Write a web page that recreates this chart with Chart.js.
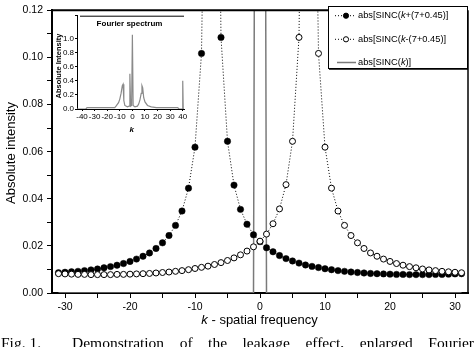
<!DOCTYPE html>
<html>
<head>
<meta charset="utf-8">
<script src="https://cdn.jsdelivr.net/npm/chart.js@4.4.1/dist/chart.umd.min.js"></script>
<style>
  html, body { margin: 0; padding: 0; background: #fff; overflow: hidden; }
  #wrap { position: relative; width: 474px; height: 347px; overflow: hidden; }
  #mainChart { position: absolute; left: 0; top: 0; }
  #insetChart { position: absolute; left: 40px; top: 8px; }
  .cap {
    position: absolute; top: 335px;
    font-family: 'Liberation Serif', 'DejaVu Serif', serif; font-size: 15.5px; line-height: 16px;
    white-space: nowrap; color: #000;
  }
  #capRest { left: 72px; width: 402px; text-align: justify; text-align-last: justify; }
</style>
</head>
<body>
<div id="wrap">
  <canvas id="mainChart" width="474" height="347"></canvas>
  <canvas id="insetChart" width="150" height="130"></canvas>
  <div class="cap" style="left:1px">Fig. 1.</div>
  <div class="cap" id="capRest">Demonstration of the leakage effect, enlarged Fourier</div>
</div>
<script>
// spatial frequency k
const kValues = [-31, -30, -29, -28, -27, -26, -25, -24, -23, -22, -21, -20, -19, -18, -17, -16,
    -15, -14, -13, -12, -11, -10, -9, -8, -7, -6, -5, -4, -3, -2, -1, 0,
    1, 2, 3, 4, 5, 6, 7, 8, 9, 10, 11, 12, 13, 14, 15, 16,
    17, 18, 19, 20, 21, 22, 23, 24, 25, 26, 27, 28, 29, 30, 31];

// abs[SINC(k+(7+0.45)] - filled dots (k=-8,-7 are above the top of the plot)
const sincPlus = [0.0086, 0.0088, 0.0090, 0.0092, 0.0095, 0.0098, 0.0102, 0.0107, 0.0112, 0.0118, 0.0125, 0.0134, 0.0144, 0.0156, 0.0170, 0.0189,
    0.0213, 0.0244, 0.0287, 0.0348, 0.0445, 0.0619, 0.1017, 0.286, 0.349, 0.1085, 0.0644, 0.0458, 0.0355, 0.0292, 0.0247, 0.0218,
    0.0192, 0.0175, 0.0159, 0.0146, 0.0136, 0.0127, 0.0119, 0.0113, 0.0108, 0.0103, 0.0099, 0.0095, 0.0092, 0.0089, 0.0087, 0.0085,
    0.0083, 0.0082, 0.0081, 0.0080, 0.0079, 0.0079, 0.0078, 0.0078, 0.0078, 0.0078, 0.0079, 0.0079, 0.0080, 0.0081, 0.0082];

// abs[SINC(k-(7+0.45)] - open circles
const sincMinus = [0.0082, 0.0081, 0.0080, 0.0079, 0.0079, 0.0078, 0.0078, 0.0078, 0.0078, 0.0079, 0.0079, 0.0080, 0.0081, 0.0082, 0.0083, 0.0085,
    0.0087, 0.0089, 0.0092, 0.0095, 0.0099, 0.0104, 0.0109, 0.0114, 0.0121, 0.0129, 0.0138, 0.0149, 0.0162, 0.0178, 0.0196, 0.0220,
    0.0250, 0.0294, 0.0357, 0.0460, 0.0644, 0.1085, 0.349, 0.286, 0.1017, 0.0619, 0.0445, 0.0348, 0.0287, 0.0244, 0.0213, 0.0189,
    0.0170, 0.0156, 0.0144, 0.0134, 0.0125, 0.0118, 0.0112, 0.0107, 0.0102, 0.0098, 0.0095, 0.0092, 0.0090, 0.0088, 0.0086];

// abs[SINC(k)] - gray line
const sincZero = [0, 0, 0, 0, 0, 0, 0, 0, 0, 0, 0, 0, 0, 0, 0, 0,
    0, 0, 0, 0, 0, 0, 0, 0, 0, 0, 0, 0, 0, 0, 0, 1,
    0, 0, 0, 0, 0, 0, 0, 0, 0, 0, 0, 0, 0, 0, 0, 0,
    0, 0, 0, 0, 0, 0, 0, 0, 0, 0, 0, 0, 0, 0, 0];

const xTickValues = [-30, -25, -20, -15, -10, -5, 0, 5, 10, 15, 20, 25, 30];
const xTickLabels = [-30, -20, -10, 0, 10, 20, 30];
const yTickLabels = ['0.00', '0.02', '0.04', '0.06', '0.08', '0.10', '0.12'];

// inset: Fourier spectrum
const insetK = [-44, -37, -36, -14, -13, -11, -10, -9, -8, -7.4, -6.8, -6, -4, -2.6, -2, -1.4, -0.6, 0, 0.6, 2, 4, 5, 6, 7, 7.6, 8.2, 9, 10, 12, 15, 19, 36, 37, 39.6, 40, 40.4, 41];
const insetAmp = [0.00, 0.00, 0.02, 0.02, 0.04, 0.09, 0.14, 0.22, 0.33, 0.35, 0.12, 0.05, 0.03, 0.04, 0.50, 0.04, 0.05, 1.05, 0.05, 0.03, 0.04, 0.07, 0.13, 0.22, 0.33, 0.30, 0.16, 0.10, 0.05, 0.03, 0.02, 0.02, 0.00, 0.00, 0.40, 0.00, 0.00];
const insetXTicks = [-40, -30, -20, -10, 0, 10, 20, 30, 40];
const insetYTicks = ['0.0', '0.2', '0.4', '0.6', '0.8', '1.0', '1.2'];

const SANS = "'Liberation Sans', Arial, sans-serif";

function toPoints(xs, ys) {
    return xs.map((x, i) => ({ x: x, y: ys[i] }));
}

// text with an italic k somewhere in it
function drawParts(ctx, parts, x, y, size, weight) {
    let cx = x;
    parts.forEach(p => {
        ctx.font = (p.it ? 'italic ' : '') + (weight || '') + ' ' + size + 'px ' + SANS;
        ctx.fillText(p.t, cx, y);
        cx += ctx.measureText(p.t).width;
    });
}
function partsWidth(ctx, parts, size, weight) {
    let w = 0;
    parts.forEach(p => {
        ctx.font = (p.it ? 'italic ' : '') + (weight || '') + ' ' + size + 'px ' + SANS;
        w += ctx.measureText(p.t).width;
    });
    return w;
}

const mainDecor = {
    id: 'mainDecor',
    afterDraw(chart) {
        const ctx = chart.ctx;
        const a = chart.chartArea;
        ctx.save();
        // frame top / right
        ctx.strokeStyle = '#000';
        ctx.lineWidth = 2;
        ctx.beginPath(); ctx.moveTo(a.left - 1, a.top); ctx.lineTo(a.right, a.top); ctx.stroke();
        ctx.lineWidth = 1.5;
        ctx.beginPath(); ctx.moveTo(a.right, a.top); ctx.lineTo(a.right, a.bottom); ctx.stroke();

        ctx.fillStyle = '#000';
        ctx.textBaseline = 'middle';
        ctx.textAlign = 'left';
        // x title
        const xt = [{ t: 'k', it: true }, { t: ' - spatial frequency' }];
        drawParts(ctx, xt, 259.5 - partsWidth(ctx, xt, 13) / 2, 320, 13);
        // y title
        ctx.save();
        ctx.translate(11, 153);
        ctx.rotate(-Math.PI / 2);
        ctx.textAlign = 'center';
        ctx.font = '13px ' + SANS;
        ctx.fillText('Absolute intensity', 0, 0);
        ctx.restore();

        // legend box
        const lx = 328, ly = 6, lw = a.right - lx, lh = 62;
        ctx.fillStyle = '#fff';
        ctx.fillRect(lx, ly, lw, lh);
        ctx.strokeStyle = '#000';
        ctx.lineWidth = 1;
        ctx.strokeRect(lx + 0.5, ly + 0.5, lw - 1, lh);
        ctx.lineWidth = 1.5;
        ctx.beginPath(); ctx.moveTo(lx + 1, ly + lh + 1); ctx.lineTo(a.right, ly + lh + 1); ctx.stroke();

        const rows = [
            { y: 15.7, kind: 'filled', parts: [{ t: 'abs[SINC(' }, { t: 'k', it: true }, { t: '+(7+0.45)]' }] },
            { y: 39.3, kind: 'open', parts: [{ t: 'abs[SINC(' }, { t: 'k', it: true }, { t: '-(7+0.45)]' }] },
            { y: 62.5, kind: 'line', parts: [{ t: 'abs[SINC(' }, { t: 'k', it: true }, { t: ')]' }] }
        ];
        rows.forEach(r => {
            if (r.kind === 'line') {
                ctx.strokeStyle = '#7a7a7a';
                ctx.lineWidth = 1.5;
                ctx.setLineDash([]);
                ctx.beginPath(); ctx.moveTo(337, r.y); ctx.lineTo(356, r.y); ctx.stroke();
            } else {
                ctx.strokeStyle = '#000';
                ctx.lineWidth = 1;
                ctx.setLineDash([1, 2]);
                ctx.beginPath(); ctx.moveTo(335, r.y); ctx.lineTo(356, r.y); ctx.stroke();
                ctx.setLineDash([]);
                ctx.beginPath();
                ctx.arc(346, r.y, 2.6, 0, Math.PI * 2);
                ctx.fillStyle = r.kind === 'filled' ? '#000' : '#fff';
                ctx.fill();
                ctx.stroke();
            }
            ctx.fillStyle = '#000';
            drawParts(ctx, r.parts, 358, r.y, 9.3);
        });
        ctx.restore();
    }
};

new Chart(document.getElementById('mainChart'), {
    type: 'line',
    data: {
        datasets: [
            {
                label: 'abs[SINC(k+(7+0.45)]',
                data: toPoints(kValues, sincPlus),
                borderColor: '#000',
                borderWidth: 1,
                borderDash: [1, 2],
                pointRadius: 3.2,
                pointBackgroundColor: '#000',
                pointBorderColor: '#000',
                pointBorderWidth: 0.5,
                order: 1
            },
            {
                label: 'abs[SINC(k-(7+0.45)]',
                data: toPoints(kValues, sincMinus),
                borderColor: '#000',
                borderWidth: 1,
                borderDash: [1, 2],
                pointRadius: 3,
                pointBackgroundColor: '#fff',
                pointBorderColor: '#000',
                pointBorderWidth: 1,
                order: 0
            },
            {
                label: 'abs[SINC(k)]',
                data: toPoints(kValues, sincZero),
                borderColor: '#7a7a7a',
                borderWidth: 1.5,
                pointRadius: 0,
                order: 2
            }
        ]
    },
    options: {
        responsive: false,
        animation: false,
        layout: { padding: { top: 4, right: 6, bottom: 18, left: 0 } },
        plugins: { legend: { display: false }, tooltip: { enabled: false } },
        scales: {
            x: {
                type: 'linear',
                min: -32,
                max: 32,
                z: 1,
                grid: { drawOnChartArea: false, drawTicks: true, tickLength: 5, color: '#000', tickWidth: 1 },
                border: { display: true, color: '#000', width: 2 },
                afterBuildTicks: s => { s.ticks = xTickValues.map(v => ({ value: v })); },
                ticks: {
                    autoSkip: false,
                    maxRotation: 0,
                    padding: 3,
                    color: '#000',
                    font: { family: SANS, size: 10.5 },
                    callback: v => xTickLabels.includes(v) ? String(v) : ''
                },
                afterFit: s => { s.height = 36; }
            },
            y: {
                min: 0,
                max: 0.12,
                z: 1,
                grid: { drawOnChartArea: false, drawTicks: true, tickLength: 5, color: '#000', tickWidth: 1 },
                border: { display: true, color: '#000', width: 2 },
                ticks: {
                    stepSize: 0.01,
                    autoSkip: false,
                    padding: 4,
                    color: '#000',
                    font: { family: SANS, size: 10.5 },
                    callback: v => {
                        const s = v.toFixed(2);
                        return yTickLabels.includes(s) ? s : '';
                    }
                },
                afterFit: s => { s.width = 52; }
            }
        }
    },
    plugins: [mainDecor]
});

const insetDecor = {
    id: 'insetDecor',
    afterDraw(chart) {
        const ctx = chart.ctx;
        const a = chart.chartArea;
        ctx.save();
        ctx.strokeStyle = '#000';
        ctx.lineWidth = 1;
        ctx.beginPath(); ctx.moveTo(a.left + 3, a.top + 0.5); ctx.lineTo(a.right, a.top + 0.5); ctx.stroke();
        ctx.fillStyle = '#000';
        ctx.textAlign = 'center';
        ctx.textBaseline = 'middle';
        ctx.font = 'bold 8px ' + SANS;
        ctx.fillText('Fourier spectrum', 129.5 - 40, 24 - 8);
        ctx.font = 'italic bold 8px ' + SANS;
        ctx.fillText('k', 131.7 - 40, 129.3 - 8);
        ctx.save();
        ctx.translate(58.5 - 40, 66 - 8);
        ctx.rotate(-Math.PI / 2);
        ctx.font = 'bold 7.5px ' + SANS;
        ctx.fillText('Absolute Intensity', 0, 0);
        ctx.restore();
        ctx.restore();
    }
};

new Chart(document.getElementById('insetChart'), {
    type: 'line',
    data: {
        datasets: [{
            label: 'Fourier spectrum',
            data: toPoints(insetK, insetAmp),
            borderColor: '#8a8a8a',
            borderWidth: 1.2,
            pointRadius: 0,
            tension: 0
        }]
    },
    options: {
        responsive: false,
        animation: false,
        layout: { padding: { top: 7.7, right: 6, bottom: 0, left: 0 } },
        plugins: { legend: { display: false }, tooltip: { enabled: false } },
        scales: {
            x: {
                type: 'linear',
                min: -44,
                max: 41,
                grid: { drawOnChartArea: false, tickLength: 2, color: '#000' },
                border: { display: true, color: '#000', width: 1 },
                afterBuildTicks: s => { s.ticks = insetXTicks.map(v => ({ value: v })); },
                ticks: {
                    autoSkip: false,
                    maxRotation: 0,
                    padding: 1,
                    color: '#000',
                    font: { family: SANS, size: 8 },
                    callback: v => String(v)
                },
                afterFit: s => { s.height = 29; }
            },
            y: {
                min: 0,
                max: 1.32,
                grid: { drawOnChartArea: false, tickLength: 2, color: '#000' },
                border: { display: true, color: '#000', width: 1 },
                ticks: {
                    stepSize: 0.2,
                    autoSkip: false,
                    padding: 1,
                    color: '#000',
                    font: { family: SANS, size: 8 },
                    callback: v => {
                        const s = v.toFixed(1);
                        return insetYTicks.includes(s) && Math.abs(v * 5 - Math.round(v * 5)) < 1e-6 ? s : '';
                    }
                },
                afterFit: s => { s.width = 37; }
            }
        }
    },
    plugins: [insetDecor]
});
</script>
</body>
</html>
